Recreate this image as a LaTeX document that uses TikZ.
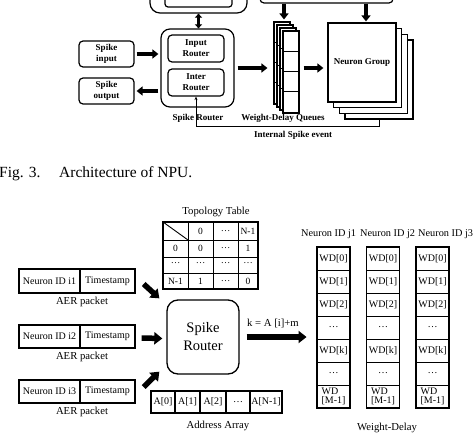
\documentclass[tikz,border=0pt]{standalone}
\usepackage{fontspec}
\setmainfont{Liberation Serif}
\usetikzlibrary{arrows.meta}
\begin{document}
\begin{tikzpicture}[x=1pt,y=-1pt,
  tb/.style={draw, line width=1.2pt, rounded corners=4pt, font=\bfseries\fontsize{9}{11}\selectfont, align=center, inner sep=0pt, fill=white},
  lbl/.style={font=\bfseries\fontsize{9}{11}\selectfont, inner sep=0pt},
  fat/.style={line width=3.5pt, -{Triangle[length=6pt,width=9pt]}},
  fatd/.style={line width=2.5pt, {Triangle[length=4pt,width=7pt]}-{Triangle[length=4pt,width=7pt]}},
  big/.style={line width=5.5pt, -{Triangle[length=8pt,width=12pt]}},
  rm/.style={font=\fontsize{10.7}{12.8}\selectfont, inner sep=0pt},
  jl/.style={font=\fontsize{10.3}{12.4}\selectfont, inner sep=0pt, anchor=west},
  tcell/.style={font=\fontsize{9.5}{11}\selectfont, inner sep=0pt},
  cell/.style={draw, line width=0.9pt, inner sep=0pt, font=\fontsize{10}{9.5}\selectfont, align=center},
  pk/.style={draw, line width=1.3pt, inner sep=0pt, font=\fontsize{10}{12}\selectfont},
]
\useasboundingbox (0,0) rectangle (474,434);
\clip (0,0) rectangle (474,434);
\fill[white] (0,0) rectangle (474,434);

% ---------- top architecture ----------
\node[tb, rounded corners=10pt, minimum width=97pt, minimum height=40pt] (cpu) at (198.5,-7) {};
\node[tb, rounded corners=3pt, minimum width=67pt, minimum height=30pt] (cpuin) at (198.5,-8) {};
\node[tb, rounded corners=4pt, minimum width=133pt, minimum height=23pt] (ctrl) at (326.5,-8.5) {};
\node[tb, rounded corners=9pt, minimum width=73pt, minimum height=78pt] (sr) at (197.5,68) {};
\node[tb, minimum width=56pt, minimum height=27pt] (ir) at (196,48.5) {Input\\Router};
\node[tb, minimum width=56pt, minimum height=27pt] (xr) at (196,82.5) {Inter\\Router};
\node[tb, minimum width=55pt, minimum height=26pt] (sin) at (106.5,54) {Spike\\input};
\node[tb, minimum width=55pt, minimum height=26pt] (sout) at (106.5,91) {Spike\\output};

\draw[fatd] (cpu.south) -- (cpu.south |- sr.north);
\draw[fat] ([xshift=2pt]sin.east) -- ([xshift=-2pt]sr.west |- sin.east);
\draw[fat] ([xshift=-2pt]sr.west |- sout.east) -- ([xshift=2pt]sout.east);

% weight-delay queues
\foreach \i in {0,1,2,3}{
  \node[draw, fill=white, line width=1.1pt, minimum width=16pt, minimum height=82pt, inner sep=0pt] (wq\i) at (282+3*\i, 63+3*\i) {};
  \foreach \d in {21,41,61}
    \draw[line width=1.1pt] ([yshift=-\d pt]wq\i.north west) -- ([yshift=-\d pt]wq\i.north east);
}
% neuron group
\foreach \i in {0,1,2}{
  \node[draw, fill=white, line width=1.2pt, minimum width=68pt, minimum height=79pt, inner sep=0pt] (ng\i) at ({362+(3-\i)*5.67}, {62.5+(3-\i)*5.67}) {};
}
\node[draw, fill=white, line width=1.2pt, minimum width=68pt, minimum height=79pt, inner sep=0pt, font=\bfseries\fontsize{9}{11}\selectfont] (ng3) at (362,62.5) {Neuron Group};

\draw[fat] ([xshift=3pt]sr.east) -- ([xshift=-6pt]wq0.west |- sr.east);
\draw[fat] ([xshift=4pt]wq3.east |- sr.east) -- ([xshift=-4pt]ng3.west |- sr.east);
\draw[fat, shorten >=2pt] ([xshift=2pt]wq0.north |- ctrl.south) -- ([xshift=2pt]wq0.north);
\draw[fat, shorten >=1pt] ([xshift=4pt]ng3.north |- ctrl.south) -- ([xshift=4pt]ng3.north);

\node[lbl] (lsr) at (198,118) {Spike Router};
\node[lbl] (lwq) at (283,118) {Weight-Delay Queues};
\node[lbl] (lise) at (293,135) {Internal Spike event};
\draw[line width=1pt, -{Stealth[length=3.5pt,width=3pt]}] (ng0.south) -- ++(0,7) -| (xr.south);

% caption
\node[anchor=base west, inner sep=0pt, font=\fontsize{15.5}{18}\selectfont] (cap1) at (-1,177) {Fig. 3.};
\node[anchor=base west, inner sep=0pt, font=\fontsize{15.5}{18}\selectfont] (cap2) at (59,177) {Architecture of NPU.};

% ---------- bottom diagram ----------
\node[rm] (ttl) at (216,212) {Topology Table};
\node[draw, line width=1.3pt, minimum width=95pt, minimum height=67pt, inner sep=0pt] (tt) at (210.5,255.5) {};
\foreach \x in {188,213,238} \draw[line width=0.9pt] (\x,222) -- (\x,289);
\foreach \y in {240,257,273} \draw[line width=0.9pt] (163,\y) -- (258,\y);
\draw[line width=0.9pt] (163,222) -- (188,240);
\node[tcell] (t01) at (200.5,231) {0};
\node[tcell] (t02) at (225.5,231) {\dots};
\node[tcell] (t03) at (248,231) {N-1};
\node[tcell] (t10) at (175.5,248.5) {0};
\node[tcell] (t11) at (200.5,248.5) {0};
\node[tcell] (t12) at (225.5,248.5) {\dots};
\node[tcell] (t13) at (248,248.5) {1};
\node[tcell] (t20) at (175.5,263) {\dots};
\node[tcell] (t21) at (200.5,263) {\dots};
\node[tcell] (t22) at (225.5,263) {\dots};
\node[tcell] (t23) at (248,263) {\dots};
\node[tcell] (t30) at (175.5,281) {N-1};
\node[tcell] (t31) at (200.5,281) {1};
\node[tcell] (t32) at (225.5,281) {\dots};
\node[tcell] (t33) at (248,281) {0};

% AER packets
\node[pk, minimum width=61pt, minimum height=24pt] (nid1) at (49.5,281) {Neuron ID i1};
\node[pk, minimum width=55pt, minimum height=24pt] (ts1) at (107.5,281) {Timestamp};
\node[rm] (aer1) at (82,302) {AER packet};
\node[pk, minimum width=61pt, minimum height=23pt] (nid2) at (49.5,336.5) {Neuron ID i2};
\node[pk, minimum width=55pt, minimum height=23pt] (ts2) at (107.5,336.5) {Timestamp};
\node[rm] (aer2) at (82,357) {AER packet};
\node[pk, minimum width=61pt, minimum height=23pt] (nid3) at (49.5,391.5) {Neuron ID i3};
\node[pk, minimum width=55pt, minimum height=23pt] (ts3) at (107.5,391.5) {Timestamp};
\node[rm] (aer3) at (82,412) {AER packet};

% spike router
\node[draw, line width=1.3pt, rounded corners=11pt, minimum width=72pt, minimum height=74pt, align=center, inner sep=0pt, font=\fontsize{14.5}{18}\selectfont] (br) at (203,337) {Spike\\Router};

\draw[big] ([shift={(8,3)}]ts1.east) -- ([shift={(-7,-1)}]br.north west);
\draw[big] ([shift={(6,1.5)}]ts2.east) -- ([shift={(-4,1.5)}]br.west);
\draw[big] ([shift={(8,-4.5)}]ts3.east) -- ([shift={(-7,-3)}]br.south west);

% address array
\node[pk, minimum width=24pt, minimum height=22pt] (a0) at (163,402) {A[0]};
\node[pk, minimum width=25pt, minimum height=22pt] (a1) at (187.5,402) {A[1]};
\node[pk, minimum width=26pt, minimum height=22pt] (a2) at (213,402) {A[2]};
\node[pk, minimum width=24pt, minimum height=22pt] (a3) at (238,402) {\dots};
\node[pk, minimum width=32pt, minimum height=22pt] (a4) at (266,402) {A[N-1]};
\node[rm] (aal) at (218,426) {Address Array};

% weight-delay columns
\foreach \c/\x in {1/333.5,2/383,3/432.5}{
  \foreach \r/\t in {0/{WD[0]},1/{WD[1]},2/{WD[2]},3/{\dots},4/{WD[k]},5/{\dots}}{
    \node[cell, minimum width=33pt, minimum height=23pt] (c\c r\r) at (\x, 258.5+23*\r) {\t};
  }
  \node[cell, align=left, minimum width=33pt, minimum height=23pt] (c\c r6) at (\x, 396.5) {WD\\{[M-1]}};
  \node[draw, line width=1.6pt, minimum width=33pt, minimum height=161pt, inner sep=0pt] (col\c) at (\x, 327.5) {};
}
\draw[big] ([xshift=7pt]br.east) -- ([xshift=-10pt]br.east -| c1r0.west);
\node[rm] (klbl) at (273,323) {k = A [i]+m};

\node[jl] (j1) at (301,234) {Neuron ID j1};
\node[jl] (j2) at (360,234) {Neuron ID j2};
\node[jl] (j3) at (418,234) {Neuron ID j3};
\node[rm] (wdl) at (387,428) {Weight-Delay};
\end{tikzpicture}
\end{document}
